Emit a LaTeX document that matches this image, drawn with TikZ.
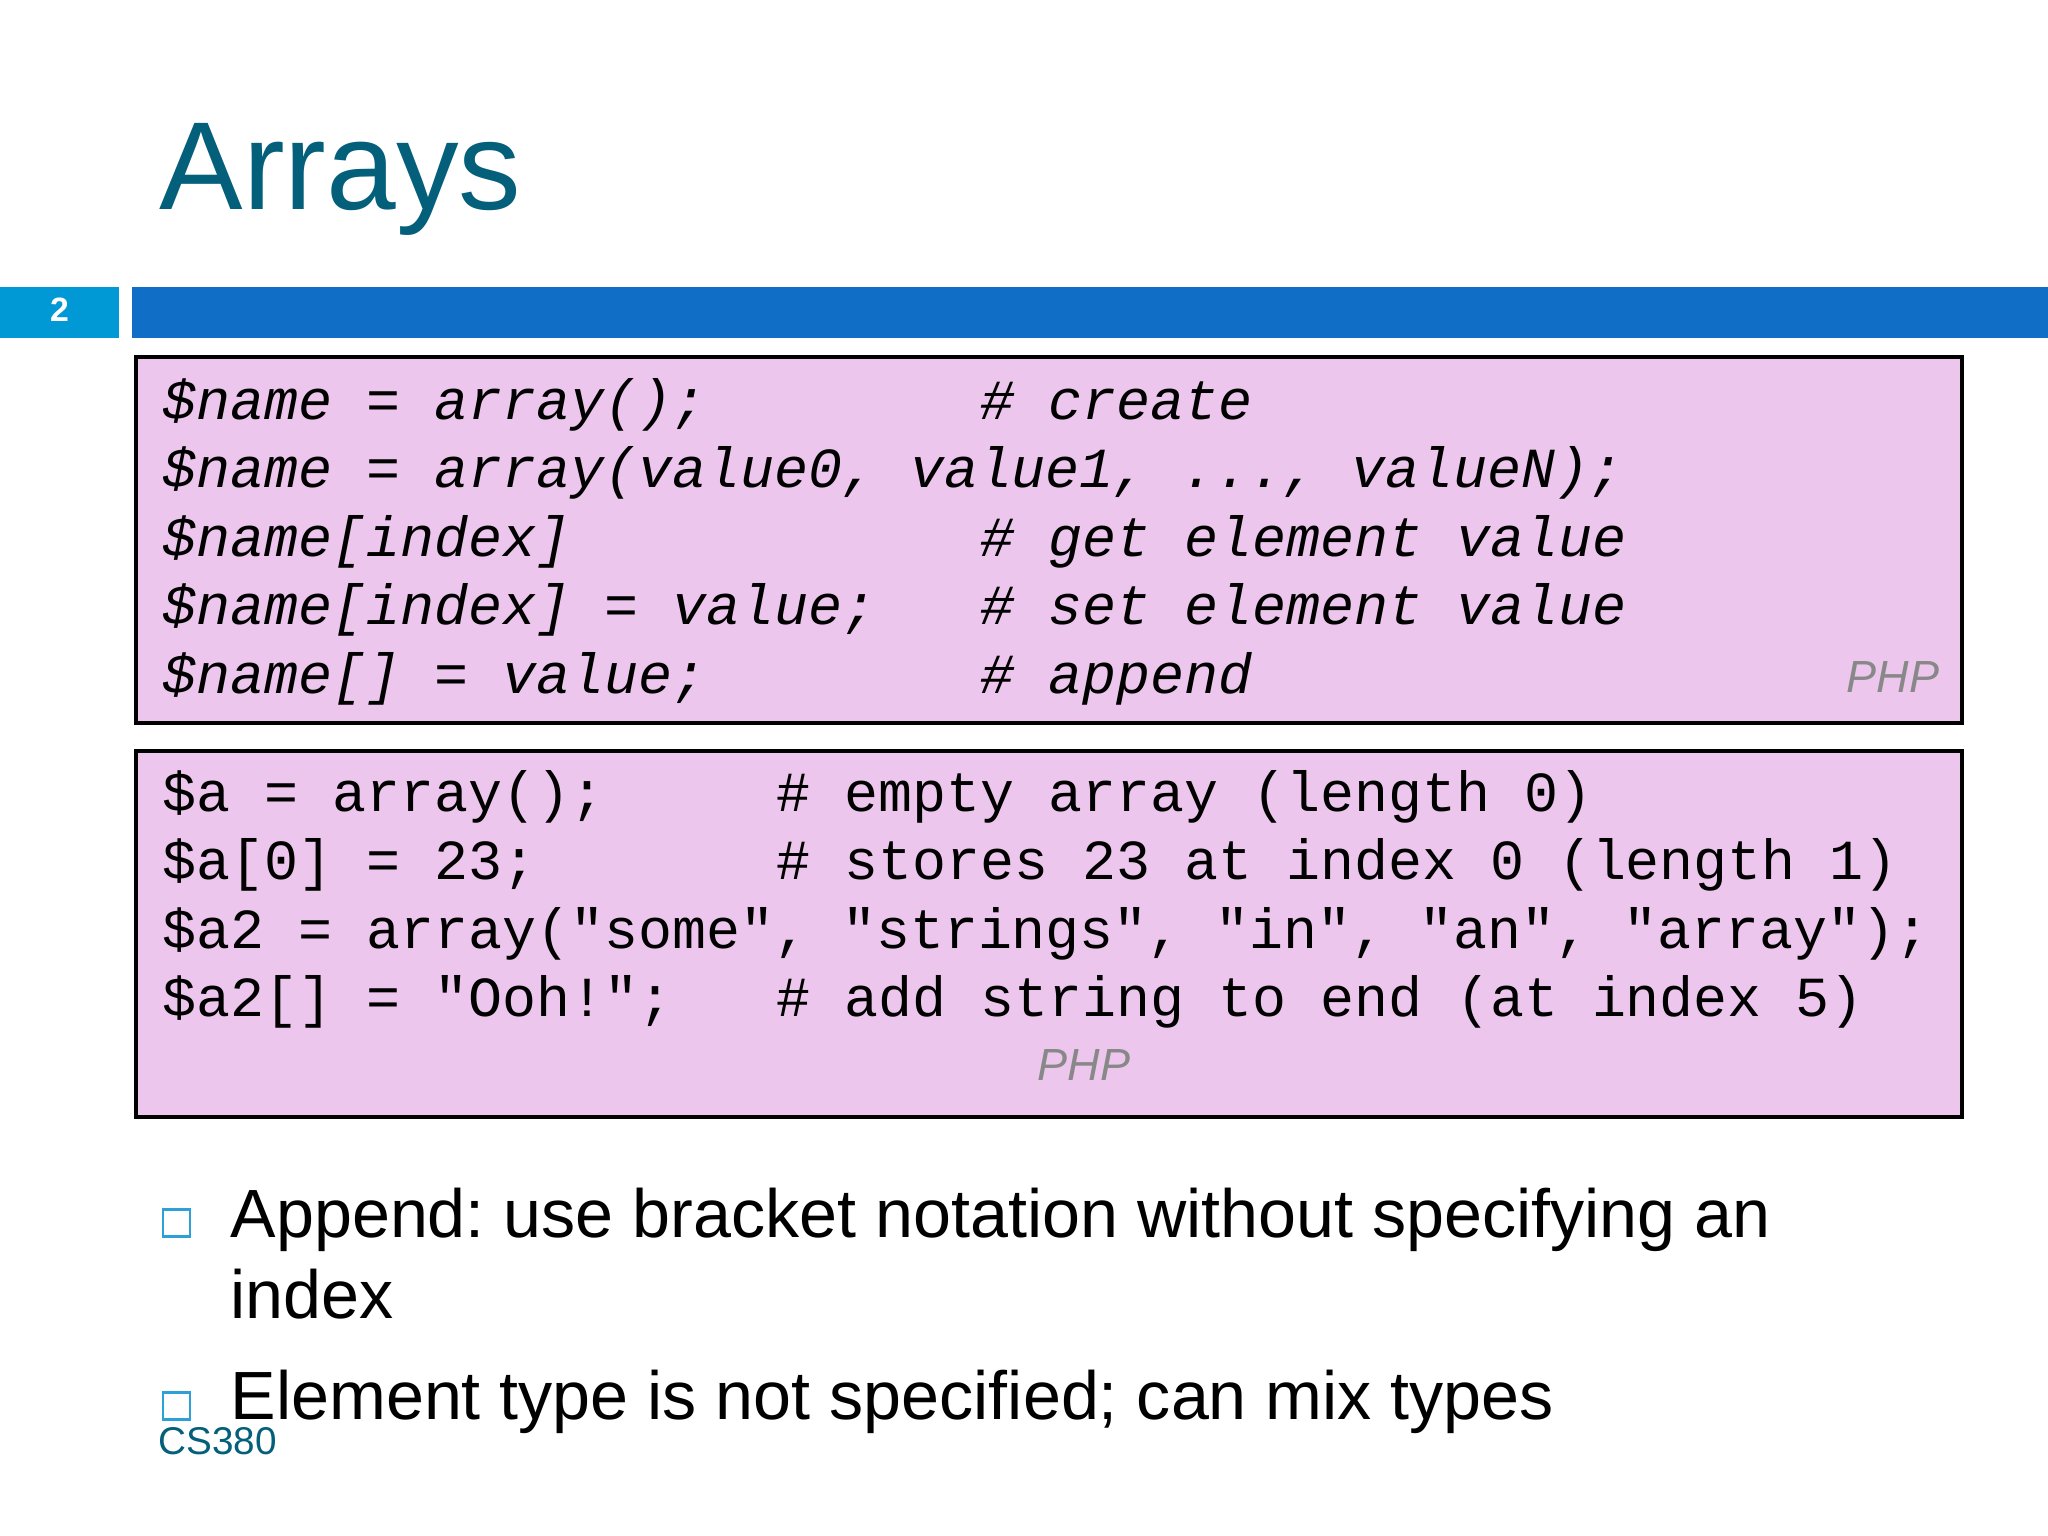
\documentclass[tikz,border=0pt]{standalone}
\usepackage{fontspec}
\setmainfont{Liberation Sans}
\setsansfont{Liberation Sans}
\setmonofont{Liberation Mono}
\frenchspacing
\definecolor{titlecol}{RGB}{4,96,122}
\definecolor{barlight}{RGB}{0,153,214}
\definecolor{bardark}{RGB}{16,110,198}
\definecolor{codepink}{RGB}{236,198,236}
\definecolor{phpgray}{RGB}{136,136,136}
\definecolor{bulletblue}{RGB}{45,160,216}
\tikzset{
  codeline/.style={anchor=base west, inner sep=0pt, font=\fontsize{16.1pt}{19pt}\ttfamily},
  codeit/.style={anchor=base west, inner sep=0pt, font=\fontsize{16.1pt}{19pt}\ttfamily\itshape},
  codebox/.style={draw=black, fill=codepink, line width=1.1pt},
  phplabel/.style={inner sep=0pt, text=phpgray, font=\fontsize{12.8pt}{14pt}\sffamily\itshape},
  bullettext/.style={anchor=base west, inner sep=0pt, font=\fontsize{19.4pt}{23pt}\sffamily},
  bulletsq/.style={draw=bulletblue, line width=0.85pt},
}
\begin{document}
\begin{tikzpicture}[x=0.01cm, y=-0.01cm]
\useasboundingbox (0,0) rectangle (2048,1536);
\fill[white] (0,0) rectangle (2048,1536);
% title
\node[anchor=base west, inner sep=0pt, text=titlecol, font=\fontsize{35.6pt}{40pt}\sffamily] (title) at (159,209) {Arrays};
% bar
\fill[barlight] (0,287) rectangle (119,338);
\fill[bardark] (132,287) rectangle (2048,338);
\node[inner sep=0pt, text=white, font=\fontsize{9.6pt}{11pt}\sffamily\bfseries] (pagenum) at (59.5,309.5) {2};
% box 1
\draw[codebox] (136,357) rectangle (1962,723);
\node[codeit] (c1a) at (162,419) {\$name = array();};
\node[codeit] (c1b) at (980,419) {\# create};
\node[codeit] (c2a) at (162,487.5) {\$name = array(value0, value1, ..., valueN);};
\node[codeit] (c3a) at (162,556) {\$name[index]};
\node[codeit] (c3b) at (980,556) {\# get element value};
\node[codeit] (c4a) at (162,624.5) {\$name[index] = value;};
\node[codeit] (c4b) at (980,624.5) {\# set element value};
\node[codeit] (c5a) at (162,693) {\$name[] = value;};
\node[codeit] (c5b) at (980,693) {\# append};
\node[phplabel, anchor=base east] (php1) at (1940,692) {PHP};
% box 2
\draw[codebox] (136,751) rectangle (1962,1117);
\node[codeline] (d1a) at (162,811) {\$a = array();};
\node[codeline] (d1b) at (776,811) {\# empty array (length 0)};
\node[codeline] (d2a) at (162,879.5) {\$a[0] = 23;};
\node[codeline] (d2b) at (776,879.5) {\# stores 23 at index 0 (length 1)};
\node[codeline] (d3a) at (162,948) {\$a2 = array("some", "strings", "in", "an", "array");};
\node[codeline] (d4a) at (162,1016.5) {\$a2[] = "Ooh!";};
\node[codeline] (d4b) at (776,1016.5) {\# add string to end (at index 5)};
\node[phplabel, anchor=base west] (php2) at (1037,1080) {PHP};
% bullets
\draw[bulletsq] (163,1209) rectangle (190,1236);
\node[bullettext] (b1a) at (230,1237) {Append: use bracket notation without specifying an};
\node[bullettext] (b1b) at (230,1318) {index};
\draw[bulletsq] (163,1392) rectangle (190,1419);
\node[bullettext] (b2) at (230,1419) {Element type is not specified; can mix types};
% footer
\node[anchor=base west, inner sep=0pt, text=titlecol, font=\fontsize{11pt}{12pt}\sffamily] (footer) at (158,1454) {CS380};
\end{tikzpicture}
\end{document}
